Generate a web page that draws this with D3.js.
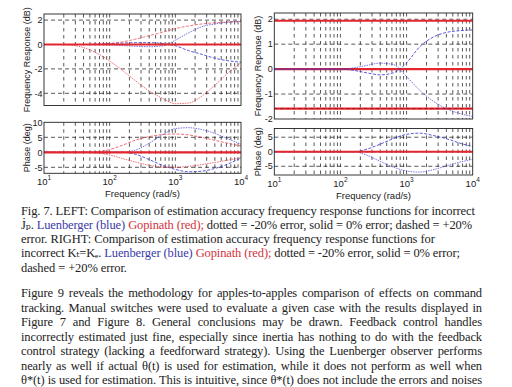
<!DOCTYPE html>
<html>
<head>
<meta charset="utf-8">
<script src="https://cdn.jsdelivr.net/npm/d3@7"></script>
<style>
  html, body { margin: 0; padding: 0; background: #fff; }
  svg { display: block; }
</style>
</head>
<body>
<svg id="fig" width="512" height="387"></svg>
<script>
// Frequency grid (rad/s), 0.2 decade steps from 10 to 10^4
const FREQ = [10, 15.85, 25.12, 39.81, 63.1, 100, 158.5, 251.2, 398.1, 631, 1000, 1585, 2512, 3981, 6310, 10000];

// LEFT magnitude (dB) - incorrect Jp
const L_MAG_ZERO      = [0, 0, 0, 0, 0, 0, 0, 0, 0, 0, 0, 0, 0, 0, 0, 0];
const L_MAG_RED_DOT   = [0, 0, -0.05, -0.25, -0.7, -1.35, -2.15, -3.0, -3.8, -4.4, -4.85, -4.8, -4.25, -3.35, -2.35, -1.5];
const L_MAG_RED_DASH  = [0, 0, 0, 0, 0.02, 0.08, 0.22, 0.45, 0.72, 1.0, 1.3, 1.52, 1.68, 1.78, 1.85, 1.88];
const L_MAG_BLUE_DOT  = [0, 0, 0, 0, 0, -0.02, -0.08, -0.15, -0.18, -0.12, 0.35, 0.95, 1.45, 1.68, 1.82, 1.9];
const L_MAG_BLUE_DASH = [0, 0, 0, 0, 0.03, 0.08, 0.12, 0.15, 0.15, 0.08, -0.1, -0.5, -0.8, -1.12, -1.33, -1.45];

// LEFT phase (deg)
const L_PH_BLUE_DOT   = [0, 0, 0, 0, 0, 0, 0, 0.8, 3.0, 5.8, 7.9, 8.2, 7.6, 6.3, 4.5, 2.7];
const L_PH_BLUE_DASH  = [0, 0, 0, 0, 0, 0, 0, -0.7, -2.4, -4.3, -5.7, -6.5, -6.3, -5.4, -3.9, -1.9];
const L_PH_RED_DASH   = [0, 0, 0, 0, 0.2, 0.9, 2.4, 4.1, 5.2, 5.9, 6.1, 5.8, 5.0, 4.0, 3.0, 2.1];
const L_PH_RED_DOT    = [0, 0, 0, 0, -0.2, -0.9, -2.1, -3.3, -4.3, -4.9, -5.0, -4.7, -4.1, -3.4, -2.6, -1.8];

// RIGHT magnitude (dB) - incorrect Kt=Ke
const R_MAG_RED_HIGH  = [1.94, 1.94, 1.94, 1.94, 1.94, 1.94, 1.94, 1.94, 1.94, 1.94, 1.94, 1.94, 1.94, 1.94, 1.94, 1.94];
const R_MAG_RED_LOW   = [-1.58, -1.58, -1.58, -1.58, -1.58, -1.58, -1.58, -1.58, -1.58, -1.58, -1.58, -1.58, -1.58, -1.58, -1.58, -1.58];
const R_MAG_BLUE_DASH = [0, 0, 0, 0, 0, 0, -0.05, -0.15, -0.23, -0.15, 0.25, 0.9, 1.28, 1.47, 1.54, 1.57];
const R_MAG_BLUE_DOT  = [0, 0, 0, 0, 0, 0, 0.05, 0.15, 0.24, 0.18, -0.3, -0.85, -1.28, -1.58, -1.78, -1.9];

// RIGHT phase (deg)
const R_PH_BLUE_DASH  = [0, 0, 0, 0, 0, 0, 0, 0.9, 2.6, 4.5, 6.0, 6.4, 5.6, 4.5, 3.0, 1.7];
const R_PH_BLUE_DOT   = [0, 0, 0, 0, 0, 0, 0, -1.2, -3.3, -5.3, -6.6, -7.0, -6.2, -4.9, -3.6, -2.6];

// Axis ticks
const X_DECADES     = [1, 2, 3, 4];
const L_MAG_TICKS   = [2, 0, -2, -4];
const L_PH_TICKS    = [10, 5, 0, -5];
const R_MAG_TICKS   = [2, 1, 0, -1, -2];
const R_PH_TICKS    = [5, 0, -5];

// Caption and body text (k = black, b = blue, r = red)
const CAPTION = [
  [["Fig. 7. LEFT: Comparison of estimation accuracy frequency response functions for incorrect", "k"]],
  [["J\u0307\u209a. ", "k"], ["Luenberger (blue) ", "b"], ["Gopinath (red);", "r"], [" dotted = -20% error, solid = 0% error; dashed = +20%", "k"]],
  [["error. RIGHT: Comparison of estimation accuracy frequency response functions for", "k"]],
  [["incorrect K\u209c=K\u2091. ", "k"], ["Luenberger (blue) ", "b"], ["Gopinath (red);", "r"], [" dotted = -20% error, solid = 0% error;", "k"]],
  [["dashed = +20% error.", "k"]]
];
const CAPTION_RIGHT = [475, 472, 435, 460, 127];

const BODY = [
  "Figure 9 reveals the methodology for apples-to-apples comparison of effects on command",
  "tracking. Manual switches were used to evaluate a given case with the results displayed in",
  "Figure 7 and Figure 8. General conclusions may be drawn. Feedback control handles",
  "incorrectly estimated just fine, especially since inertia has nothing to do with the feedback",
  "control strategy (lacking a feedforward strategy). Using the Luenberger observer performs",
  "nearly as well if actual \u03b8(t) is used for estimation, while it does not perform as well when",
  "\u03b8*(t) is used for estimation. This is intuitive, since \u03b8*(t) does not include the errors and noises"
];

(function() {
    const RED = '#e3262e';
    const BLUE = '#3434d2';
    const TXT = { k: '#222', b: '#3a3aa8', r: '#d4323e' };
    const SANS = '"Liberation Sans", Arial, sans-serif';
    const SERIF = '"Liberation Serif", "DejaVu Serif", serif';

    const svg = d3.select('#fig');
    svg.append('rect').attr('width', 512).attr('height', 387).attr('fill', '#fff');

    let clipId = 0;

    function panel(o) {
        const x = d3.scaleLog().domain([10, 10000]).range([o.x0, o.x1]);
        const y = d3.scaleLinear().domain(o.domain).range([o.y1, o.y0]);
        const g = svg.append('g');

        const id = 'clip' + (clipId++);
        svg.append('clipPath').attr('id', id)
            .append('rect').attr('x', o.x0).attr('y', o.y0)
            .attr('width', o.x1 - o.x0).attr('height', o.y1 - o.y0);

        // Grid: major + minor verticals, dashed
        const vgrid = [];
        for (let d = 1; d < 4; d++) {
            for (let k = 1; k < 10; k++) vgrid.push(k * Math.pow(10, d));
        }
        g.selectAll('line.vg').data(vgrid.filter(v => v > 10)).enter()
            .append('line')
            .attr('x1', d => x(d)).attr('x2', d => x(d))
            .attr('y1', o.y0).attr('y2', o.y1)
            .attr('stroke', '#111').attr('stroke-width', 0.7)
            .attr('stroke-dasharray', '3.5,3.5');

        g.selectAll('line.hg').data(o.ticks.filter(t => t > o.domain[0] && t < o.domain[1])).enter()
            .append('line')
            .attr('x1', o.x0).attr('x2', o.x1)
            .attr('y1', d => y(d)).attr('y2', d => y(d))
            .attr('stroke', '#111').attr('stroke-width', 0.7)
            .attr('stroke-dasharray', '4,3');

        // Series
        const line = d3.line()
            .x(d => x(d[0])).y(d => y(d[1]))
            .curve(d3.curveMonotoneX);
        const lines = g.append('g').attr('clip-path', 'url(#' + id + ')');
        o.series.forEach(function(s) {
            lines.append('path')
                .datum(FREQ.map((f, i) => [f, s.v[i]]))
                .attr('d', line)
                .attr('fill', 'none')
                .attr('stroke', s.c)
                .attr('stroke-width', s.w || 0.9)
                .attr('stroke-opacity', s.o || 0.9)
                .attr('stroke-dasharray', s.dash || null);
        });

        // Frame
        g.append('rect')
            .attr('x', o.x0).attr('y', o.y0)
            .attr('width', o.x1 - o.x0).attr('height', o.y1 - o.y0)
            .attr('fill', 'none').attr('stroke', '#222').attr('stroke-width', 0.9);

        // y tick labels
        g.selectAll('text.yt').data(o.ticks).enter()
            .append('text')
            .attr('x', o.x0 - 1.5).attr('y', d => y(d) + 3.2)
            .attr('text-anchor', 'end')
            .attr('font-family', SANS).attr('font-size', 9)
            .attr('fill', '#222')
            .text(d => d);

        // y label
        g.append('text')
            .attr('transform', 'translate(' + o.labelX + ',' + ((o.y0 + o.y1) / 2) + ') rotate(-90)')
            .attr('text-anchor', 'middle')
            .attr('font-family', SANS).attr('font-size', 9)
            .attr('fill', '#222')
            .text(o.label);

        // x ticks + label
        if (o.xaxis) {
            X_DECADES.forEach(function(e) {
                const t = g.append('text')
                    .attr('x', x(Math.pow(10, e)))
                    .attr('y', o.y1 + 11.5)
                    .attr('text-anchor', 'middle')
                    .attr('font-family', SANS).attr('font-size', 9.5)
                    .attr('fill', '#222');
                t.append('tspan').text('10');
                t.append('tspan').attr('dy', -4.5).attr('font-size', 6.5).text(e);
            });
            g.append('text')
                .attr('x', (o.x0 + o.x1) / 2).attr('y', o.y1 + 23.5)
                .attr('text-anchor', 'middle')
                .attr('font-family', SANS).attr('font-size', 9.5)
                .attr('fill', '#222')
                .text('Frequency (rad/s)');
        }
    }

    // LEFT magnitude
    panel({
        x0: 44, x1: 241, y0: 14, y1: 105.5, domain: [-5, 2.5],
        ticks: L_MAG_TICKS, label: 'Frequency Response (dB)', labelX: 30,
        series: [
            { v: L_MAG_BLUE_DOT, c: BLUE, dash: '1.5,1', o: 0.75 },
            { v: L_MAG_BLUE_DASH, c: BLUE, dash: '3,1.5' },
            { v: L_MAG_RED_DASH, c: RED, dash: '3,1.5', o: 0.7 },
            { v: L_MAG_RED_DOT, c: RED, dash: '1.5,1', o: 0.75 },
            { v: L_MAG_ZERO, c: RED, w: 2.2, o: 1 }
        ]
    });

    // LEFT phase
    panel({
        x0: 44, x1: 241, y0: 122.3, y1: 173.3, domain: [-7, 10],
        ticks: L_PH_TICKS, label: 'Phase (deg)', labelX: 30, xaxis: true,
        series: [
            { v: L_PH_BLUE_DOT, c: BLUE, dash: '1.5,1', o: 0.75 },
            { v: L_PH_BLUE_DASH, c: BLUE, dash: '3,1.5' },
            { v: L_PH_RED_DASH, c: RED, dash: '3,1.5', o: 0.75 },
            { v: L_PH_RED_DOT, c: RED, dash: '1.5,1', o: 0.75 },
            { v: L_MAG_ZERO, c: RED, w: 2.2, o: 1 }
        ]
    });

    // RIGHT magnitude
    panel({
        x0: 274.3, x1: 472.7, y0: 13, y1: 119, domain: [-2, 2.25],
        ticks: R_MAG_TICKS, label: 'Frequency Reponse (dB)', labelX: 261,
        series: [
            { v: R_MAG_RED_HIGH, c: RED, w: 2.2, o: 1 },
            { v: R_MAG_RED_LOW, c: RED, w: 2.2, o: 1 },
            { v: R_MAG_RED_LOW, c: '#a01018', dash: '3,3', w: 1 },
            { v: L_MAG_ZERO, c: RED, w: 2.2, o: 1 },
            { v: R_MAG_BLUE_DASH, c: BLUE, dash: '3,1.5' },
            { v: R_MAG_BLUE_DOT, c: BLUE, dash: '1.5,1', o: 0.75 }
        ]
    });

    // RIGHT phase
    panel({
        x0: 274.3, x1: 472.7, y0: 128.5, y1: 175, domain: [-8, 8],
        ticks: R_PH_TICKS, label: 'Phase (deg)', labelX: 261, xaxis: true,
        series: [
            { v: R_PH_BLUE_DASH, c: BLUE, dash: '3,1.5' },
            { v: R_PH_BLUE_DOT, c: BLUE, dash: '1.5,1', o: 0.75 },
            { v: L_MAG_ZERO, c: RED, w: 2.2, o: 1 }
        ]
    });

    // Caption: letter-spacing stretched so each line ends where it does in the scan
    let baseLS = 0;
    CAPTION.forEach(function(parts, i) {
        const t = svg.append('text')
            .attr('x', 21).attr('y', 214.5 + i * 14.25)
            .attr('font-family', SERIF).attr('font-size', 12.5);
        let chars = 0;
        parts.forEach(function(p) {
            t.append('tspan').attr('fill', TXT[p[1]]).text(p[0]);
            chars += p[0].length;
        });
        const natural = t.node().getComputedTextLength();
        const ls = (CAPTION_RIGHT[i] - 21 - natural) / Math.max(1, chars - 1);
        if (i === 0) baseLS = ls;
        t.attr('letter-spacing', ls.toFixed(3));
    });

    // Body paragraph: same letter spacing, justified with word spacing
    BODY.forEach(function(s, i) {
        const t = svg.append('text')
            .attr('x', 21).attr('y', 297 + i * 14.5)
            .attr('font-family', SERIF).attr('font-size', 12.5)
            .attr('fill', '#222')
            .attr('letter-spacing', baseLS.toFixed(3))
            .text(s);
        const w = t.node().getComputedTextLength();
        const spaces = s.split(' ').length - 1;
        t.attr('word-spacing', ((461 - w) / spaces).toFixed(3));
    });
})();
</script>
</body>
</html>
